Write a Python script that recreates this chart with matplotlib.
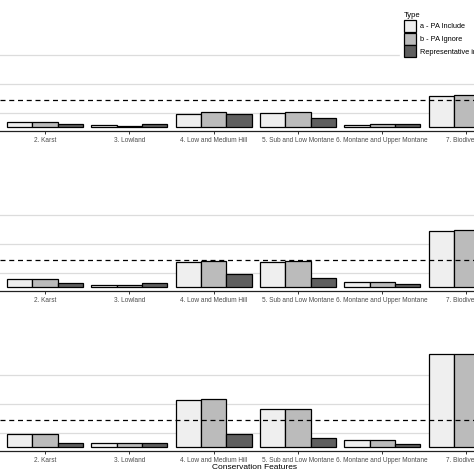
import numpy as np
import matplotlib
matplotlib.use('Agg')
import matplotlib.pyplot as plt

plt.rcParams['font.family'] = ['Liberation Sans', 'DejaVu Sans']

# categories visible in the crop (first one is cut off on the left)
features = ['2. Karst', '3. Lowland', '4. Low and Medium Hill', '5. Sub and Low Montane',
            '6. Montane and Upper Montane', '7. Biodiversity']
types = ['a - PA Include', 'b - PA Ignore', 'Representative index']
colors = ['#EFEFEF', '#BBBBBB', '#5F5F5F']

# values (top to bottom)
panel1_a = [0.34, 0.14, 0.92, 0.94, 0.16, 2.12]
panel1_b = [0.34, 0.07, 1.01, 1.03, 0.18, 2.21]
panel1_c = [0.23, 0.23, 0.90, 0.64, 0.18, 0.90]

panel2_a = [0.57, 0.16, 1.72, 1.72, 0.37, 3.84]
panel2_b = [0.57, 0.16, 1.79, 1.79, 0.37, 3.93]
panel2_c = [0.25, 0.25, 0.92, 0.64, 0.21, 0.90]

panel3_a = [0.92, 0.28, 3.22, 2.64, 0.46, 6.39]
panel3_b = [0.92, 0.28, 3.31, 2.64, 0.46, 6.39]
panel3_c = [0.25, 0.25, 0.92, 0.64, 0.21, 0.90]

target = 1.87
grid_vals = [1, 3, 5]

panels = [(panel1_a, panel1_b, panel1_c),
          (panel2_a, panel2_b, panel2_c),
          (panel3_a, panel3_b, panel3_c)]

fig = plt.figure(figsize=(4.74, 4.74), dpi=100)

# axes rectangles in pixels (bottom, top) measured from top of image
px_boxes = [(131, 30), (291, 190), (451, 350)]
H = 474.0

x = np.arange(len(features))
w = 0.3
axes = []
for (bot, top), vals in zip(px_boxes, panels):
    ax = fig.add_axes([0, 1 - bot / H, 1, (bot - top) / H])
    for k, v in enumerate(vals):
        ax.bar(x + (k - 1) * w, v, width=w, color=colors[k], edgecolor='black',
               linewidth=0.9, label=types[k], zorder=3)
    ax.axhline(target, color='black', linestyle=(0, (4, 3)), linewidth=0.9, zorder=4)
    for g in grid_vals:
        ax.axhline(g, color='#DCDCDC', linewidth=0.9, zorder=1)
    ax.set_xlim(-0.534, 5.089)
    ax.set_ylim(-0.27, 6.7)
    ax.set_yticks([])
    ax.set_xticks(x)
    ax.set_xticklabels(features, fontsize=4.7, color='#4D4D4D')
    ax.tick_params(axis='x', length=2.5, width=0.7, pad=2, color='#333333')
    for s in ['top', 'right', 'left']:
        ax.spines[s].set_visible(False)
    ax.spines['bottom'].set_linewidth(0.9)
    ax.spines['bottom'].set_color('#222222')
    axes.append(ax)

axes[2].set_xlabel('Conservation Features', fontsize=6)
axes[2].xaxis.set_label_coords(255 / 474, -0.13)

leg = axes[0].legend(title='Type', loc='upper left', bbox_to_anchor=(396 / 474, 1 + 26 / 101),
                     fontsize=5.3, title_fontsize=5.5, frameon=True, framealpha=1,
                     edgecolor='white', facecolor='white', fancybox=False,
                     handlelength=1.65, handleheight=2.1, labelspacing=0.12,
                     handletextpad=0.55, borderpad=0.6, alignment='left')
leg.set_zorder(10)

fig.savefig('out.png', dpi=100)
